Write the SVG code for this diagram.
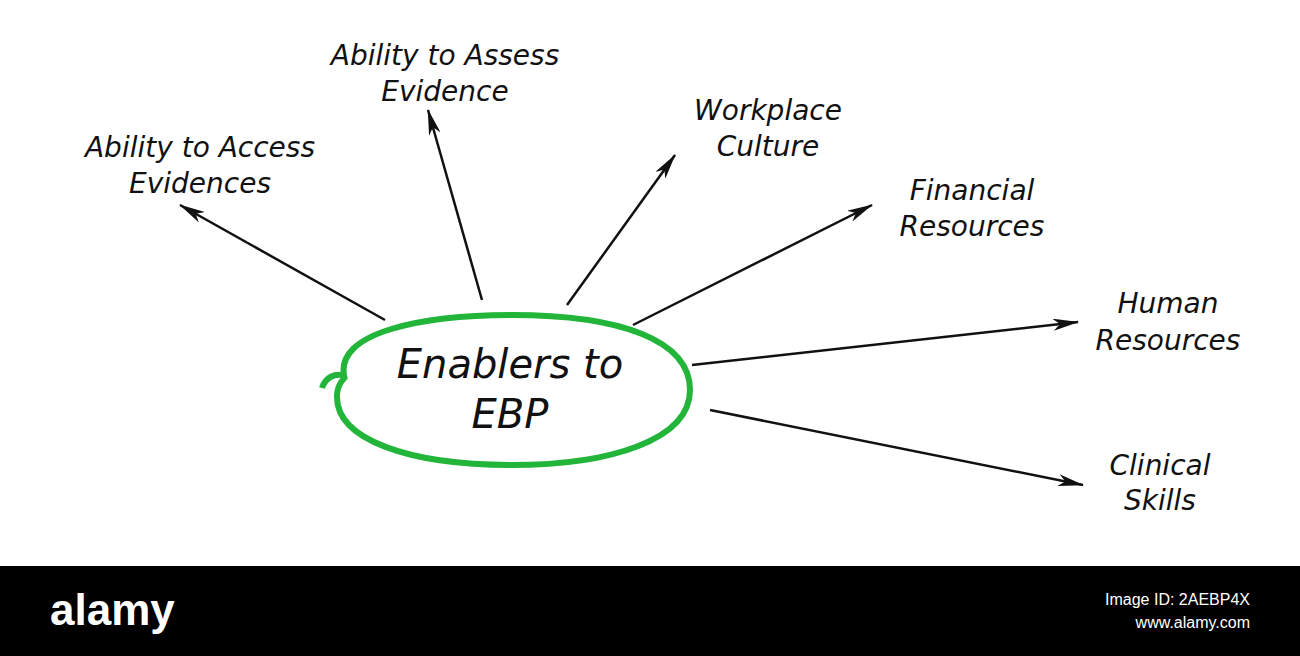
<svg xmlns="http://www.w3.org/2000/svg" width="1300" height="656" viewBox="0 0 1300 656">
<style>
.l{font-family:"DejaVu Sans",sans-serif;font-style:italic;font-size:28px;fill:#111;text-anchor:middle}
.c{font-family:"DejaVu Sans",sans-serif;font-style:italic;font-size:40px;fill:#111;text-anchor:middle}
.e{stroke:#111;stroke-width:2.5;fill:none;marker-end:url(#a)}
</style>
<defs><marker id="a" viewBox="0 0 26 12" refX="25" refY="6" markerWidth="26" markerHeight="12" markerUnits="userSpaceOnUse" orient="auto"><path d="M0,0 L26,6 L0,12 L7,6 Z" fill="#111"/></marker></defs>
<rect width="1300" height="656" fill="#fff"/>
<g id="connectors">
<line class="e" x1="385" y1="320" x2="180" y2="205"/>
<line class="e" x1="482" y1="300" x2="428" y2="110"/>
<line class="e" x1="567" y1="305" x2="675" y2="155"/>
<line class="e" x1="633" y1="325" x2="872" y2="205"/>
<line class="e" x1="692" y1="365" x2="1078" y2="322"/>
<line class="e" x1="710" y1="410" x2="1083" y2="485"/>
</g>
<g id="center">
<path d="M345,380 C330,330 430,315 512,315 C620,315 690,340 690,390 C690,440 610,465 512,465 C410,465 335,440 337,395 C338,382 345,378 345,378 M322,388 C325,378 335,372 345,376" fill="none" stroke="#22b53a" stroke-width="6"/>
<text class="c" x="510" y="378">Enablers to</text>
<text class="c" x="510" y="428">EBP</text>
</g>
<g id="n1"><text class="l" x="200" y="157">Ability to Access</text><text class="l" x="200" y="193">Evidences</text></g>
<g id="n2"><text class="l" x="445" y="65">Ability to Assess</text><text class="l" x="445" y="101">Evidence</text></g>
<g id="n3"><text class="l" x="768" y="120">Workplace</text><text class="l" x="768" y="156">Culture</text></g>
<g id="n4"><text class="l" x="972" y="200">Financial</text><text class="l" x="972" y="236">Resources</text></g>
<g id="n5"><text class="l" x="1168" y="313">Human</text><text class="l" x="1168" y="350">Resources</text></g>
<g id="n6"><text class="l" x="1160" y="475">Clinical</text><text class="l" x="1160" y="510">Skills</text></g>
<g id="bar">
<rect x="0" y="566" width="1300" height="90" fill="#000"/>
<text x="50" y="625" font-family="Liberation Sans,sans-serif" font-size="44" font-weight="bold" fill="#fff">alamy</text>
<text x="1250" y="605" font-family="Liberation Sans,sans-serif" font-size="16" fill="#fff" text-anchor="end">Image ID: 2AEBP4X</text>
<text x="1250" y="628" font-family="Liberation Sans,sans-serif" font-size="16" fill="#fff" text-anchor="end">www.alamy.com</text>
</g>
</svg>
